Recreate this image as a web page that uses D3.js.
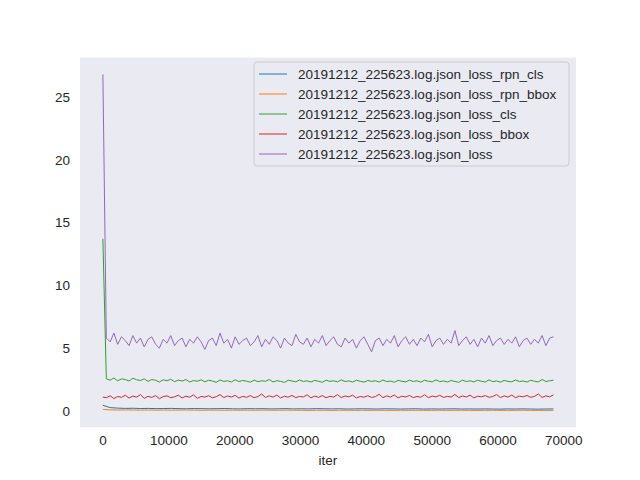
<!DOCTYPE html>
<meta charset="utf-8">
<script src="https://d3js.org/d3.v7.min.js"></script>
<style>
  body { margin: 0; background: #fff; }
  text { font-family: "Liberation Sans", Arial, sans-serif; fill: #262626; }
</style>
<div id="chart"></div>
<script>
  // series values (first point is the start-up spike)
  const names = ["20191212_225623.log.json_loss_rpn_cls", "20191212_225623.log.json_loss_rpn_bbox",
                 "20191212_225623.log.json_loss_cls", "20191212_225623.log.json_loss_bbox",
                 "20191212_225623.log.json_loss"];
  const colors = ["#1f77b4", "#ff7f0e", "#2ca02c", "#d62728", "#9467bd"];
  const lastIter = 68500;
  const xTicks = [0, 10000, 20000, 30000, 40000, 50000, 60000, 70000];
  const yTicks = [0, 5, 10, 15, 20, 25];

  const rpnCls = [0.45,0.26,0.22,0.2,0.21,0.19,0.2,0.18,0.19,0.2,0.18,0.17,0.19,0.18,0.17,0.18,0.19,0.17,0.16,0.18,
    0.17,0.18,0.16,0.17,0.18,0.16,0.17,0.16,0.18,0.17,0.16,0.17,0.15,0.16,0.17,0.16,0.15,0.17,0.16,0.15,
    0.16,0.17,0.15,0.16,0.15,0.16,0.17,0.15,0.16,0.15,0.16,0.15,0.14,0.16,0.15,0.16,0.15,0.14,0.15,0.16];
  const rpnBbox = [0.12,0.08,0.07,0.08,0.07,0.06,0.07,0.06,0.07,0.06,0.06,0.07,0.06,0.05,0.06,0.06,0.05,0.06,0.05,0.06,
    0.05,0.06,0.05,0.05,0.06,0.05,0.05,0.04,0.05,0.05,0.04,0.05,0.05,0.04,0.05,0.04,0.05,0.04,0.04,0.05,
    0.04,0.05,0.04,0.04,0.05,0.04,0.04,0.05,0.04,0.04,0.04,0.05,0.04,0.04,0.04,0.05,0.04,0.04,0.04,0.04];
  const lossCls = [13.7,2.55,2.45,2.62,2.4,2.55,2.5,2.38,2.6,2.48,2.42,2.55,2.35,2.5,2.44,2.3,2.48,2.4,2.52,2.33,
    2.45,2.38,2.5,2.3,2.42,2.36,2.48,2.32,2.44,2.38,2.28,2.46,2.35,2.4,2.3,2.48,2.34,2.42,2.37,2.29,
    2.45,2.33,2.4,2.36,2.5,2.3,2.41,2.35,2.27,2.44,2.38,2.32,2.46,2.34,2.4,2.3,2.43,2.36,2.28,2.45,
    2.35,2.4,2.31,2.47,2.34,2.39,2.3,2.44,2.36,2.29,2.42,2.35,2.4,2.3,2.46,2.33,2.38,2.28,2.43,2.36,
    2.31,2.45,2.34,2.4,2.29,2.44,2.36,2.32,2.47,2.33,2.39,2.3,2.42,2.35,2.28,2.45,2.34,2.4,2.31,2.44,
    2.36,2.3,2.47,2.33,2.39,2.29,2.43,2.35,2.32,2.46,2.34,2.38,2.3,2.44,2.36,2.31,2.5,2.34,2.4,2.45];
  const lossBbox = [1.1,1.05,1.2,0.98,1.15,1.08,1.25,1.02,1.18,1.1,1.3,1.0,1.16,1.07,1.22,0.97,1.14,1.2,1.05,1.12,
    1.25,1.03,1.17,1.09,1.28,1.0,1.15,1.1,1.21,1.04,1.13,1.3,1.06,1.19,1.1,1.24,1.02,1.16,1.08,1.22,
    1.05,1.14,1.35,1.07,1.2,1.1,1.26,1.03,1.17,1.09,1.23,1.06,1.15,1.11,1.28,1.04,1.18,1.08,1.22,1.05,
    1.16,1.1,1.3,1.06,1.19,1.12,1.25,1.03,1.15,1.09,1.21,1.07,1.14,1.33,1.05,1.2,1.1,1.27,1.04,1.17,
    1.11,1.23,1.06,1.15,1.09,1.29,1.05,1.18,1.12,1.24,1.07,1.16,1.1,1.31,1.06,1.19,1.11,1.25,1.04,1.17,
    1.12,1.22,1.08,1.15,1.3,1.06,1.2,1.1,1.26,1.05,1.18,1.12,1.23,1.08,1.16,1.35,1.07,1.2,1.12,1.28];
  const loss = [26.8,5.8,5.5,6.2,5.3,5.9,5.6,5.2,6.0,5.4,5.8,5.1,5.7,5.9,5.3,5.0,5.7,5.4,6.0,5.2,
    5.6,5.8,5.1,5.7,5.4,5.9,5.5,4.9,5.6,5.8,5.2,6.2,5.4,5.7,5.0,5.9,5.3,5.6,5.8,5.2,
    5.5,6.0,5.1,5.7,5.3,5.9,5.6,5.0,5.8,5.4,5.2,6.1,5.5,5.3,5.8,5.1,5.7,5.4,6.0,5.2,
    5.6,5.9,5.3,5.1,5.8,5.4,5.7,5.0,5.6,5.9,5.3,4.7,5.6,5.8,5.2,5.7,5.4,6.0,5.1,5.6,
    5.9,5.3,5.7,5.2,5.8,5.5,6.1,5.1,5.6,5.8,5.3,5.7,5.4,6.4,5.2,5.6,5.9,5.3,5.7,5.1,
    5.8,5.4,6.0,5.2,5.6,5.8,5.3,5.7,5.4,5.9,5.1,5.6,5.8,5.3,5.7,5.4,6.0,5.2,5.8,5.9];
  const series = [rpnCls, rpnBbox, lossCls, lossBbox, loss];

  const W = 640, H = 480;
  const margin = {top: 57.6, right: 64, bottom: 52.8, left: 80};
  const width = W - margin.left - margin.right, height = H - margin.top - margin.bottom;

  const svg = d3.select("#chart").append("svg").attr("width", W).attr("height", H);
  const g = svg.append("g").attr("transform", `translate(${margin.left},${margin.top})`);

  const xPad = lastIter * 0.05, yMax = 26.8, yMin = 0.04, yPad = (yMax - yMin) * 0.05;
  const x = d3.scaleLinear().domain([-xPad, lastIter + xPad]).range([0, width]);
  const y = d3.scaleLinear().domain([yMin - yPad, yMax + yPad]).range([height, 0]);

  g.append("rect").attr("width", width).attr("height", height).attr("fill", "#eaeaf2");

  const xAxis = g.append("g").attr("transform", `translate(0,${height})`)
    .call(d3.axisBottom(x).tickValues(xTicks).tickSize(0).tickPadding(8).tickFormat(d3.format("d")));
  const yAxis = g.append("g")
    .call(d3.axisLeft(y).tickValues(yTicks).tickSize(0).tickPadding(10));
  [xAxis, yAxis].forEach(a => {
    a.select(".domain").remove();
    a.selectAll("text").style("font-size", "13.5px").attr("fill", "#262626");
  });

  g.append("text").attr("x", width / 2).attr("y", height + 38).attr("text-anchor", "middle")
    .style("font-size", "13.5px").text("iter");

  g.append("clipPath").attr("id", "clip").append("rect").attr("width", width).attr("height", height);
  series.forEach((vals, k) => {
    const step = lastIter / (vals.length - 1);
    const line = d3.line().x((d, i) => x(i === 0 ? 50 : i * step)).y(d => y(d));
    g.append("path").datum(vals).attr("d", line).attr("fill", "none")
      .attr("stroke", colors[k]).attr("stroke-width", 1).attr("clip-path", "url(#clip)");
  });

  // legend
  const lg = svg.append("g").attr("transform", "translate(254,62)");
  lg.append("rect").attr("width", 315).attr("height", 104).attr("rx", 3)
    .attr("fill", "#eaeaf2").attr("fill-opacity", 0.8).attr("stroke", "#cccccc");
  names.forEach((n, k) => {
    const yy = 12 + k * 20;
    lg.append("line").attr("x1", 5).attr("x2", 33).attr("y1", yy).attr("y2", yy)
      .attr("stroke", colors[k]).attr("stroke-width", 1);
    lg.append("text").attr("x", 44).attr("y", yy).attr("dy", "0.35em")
      .style("font-size", "13.5px").text(n);
  });
</script>
